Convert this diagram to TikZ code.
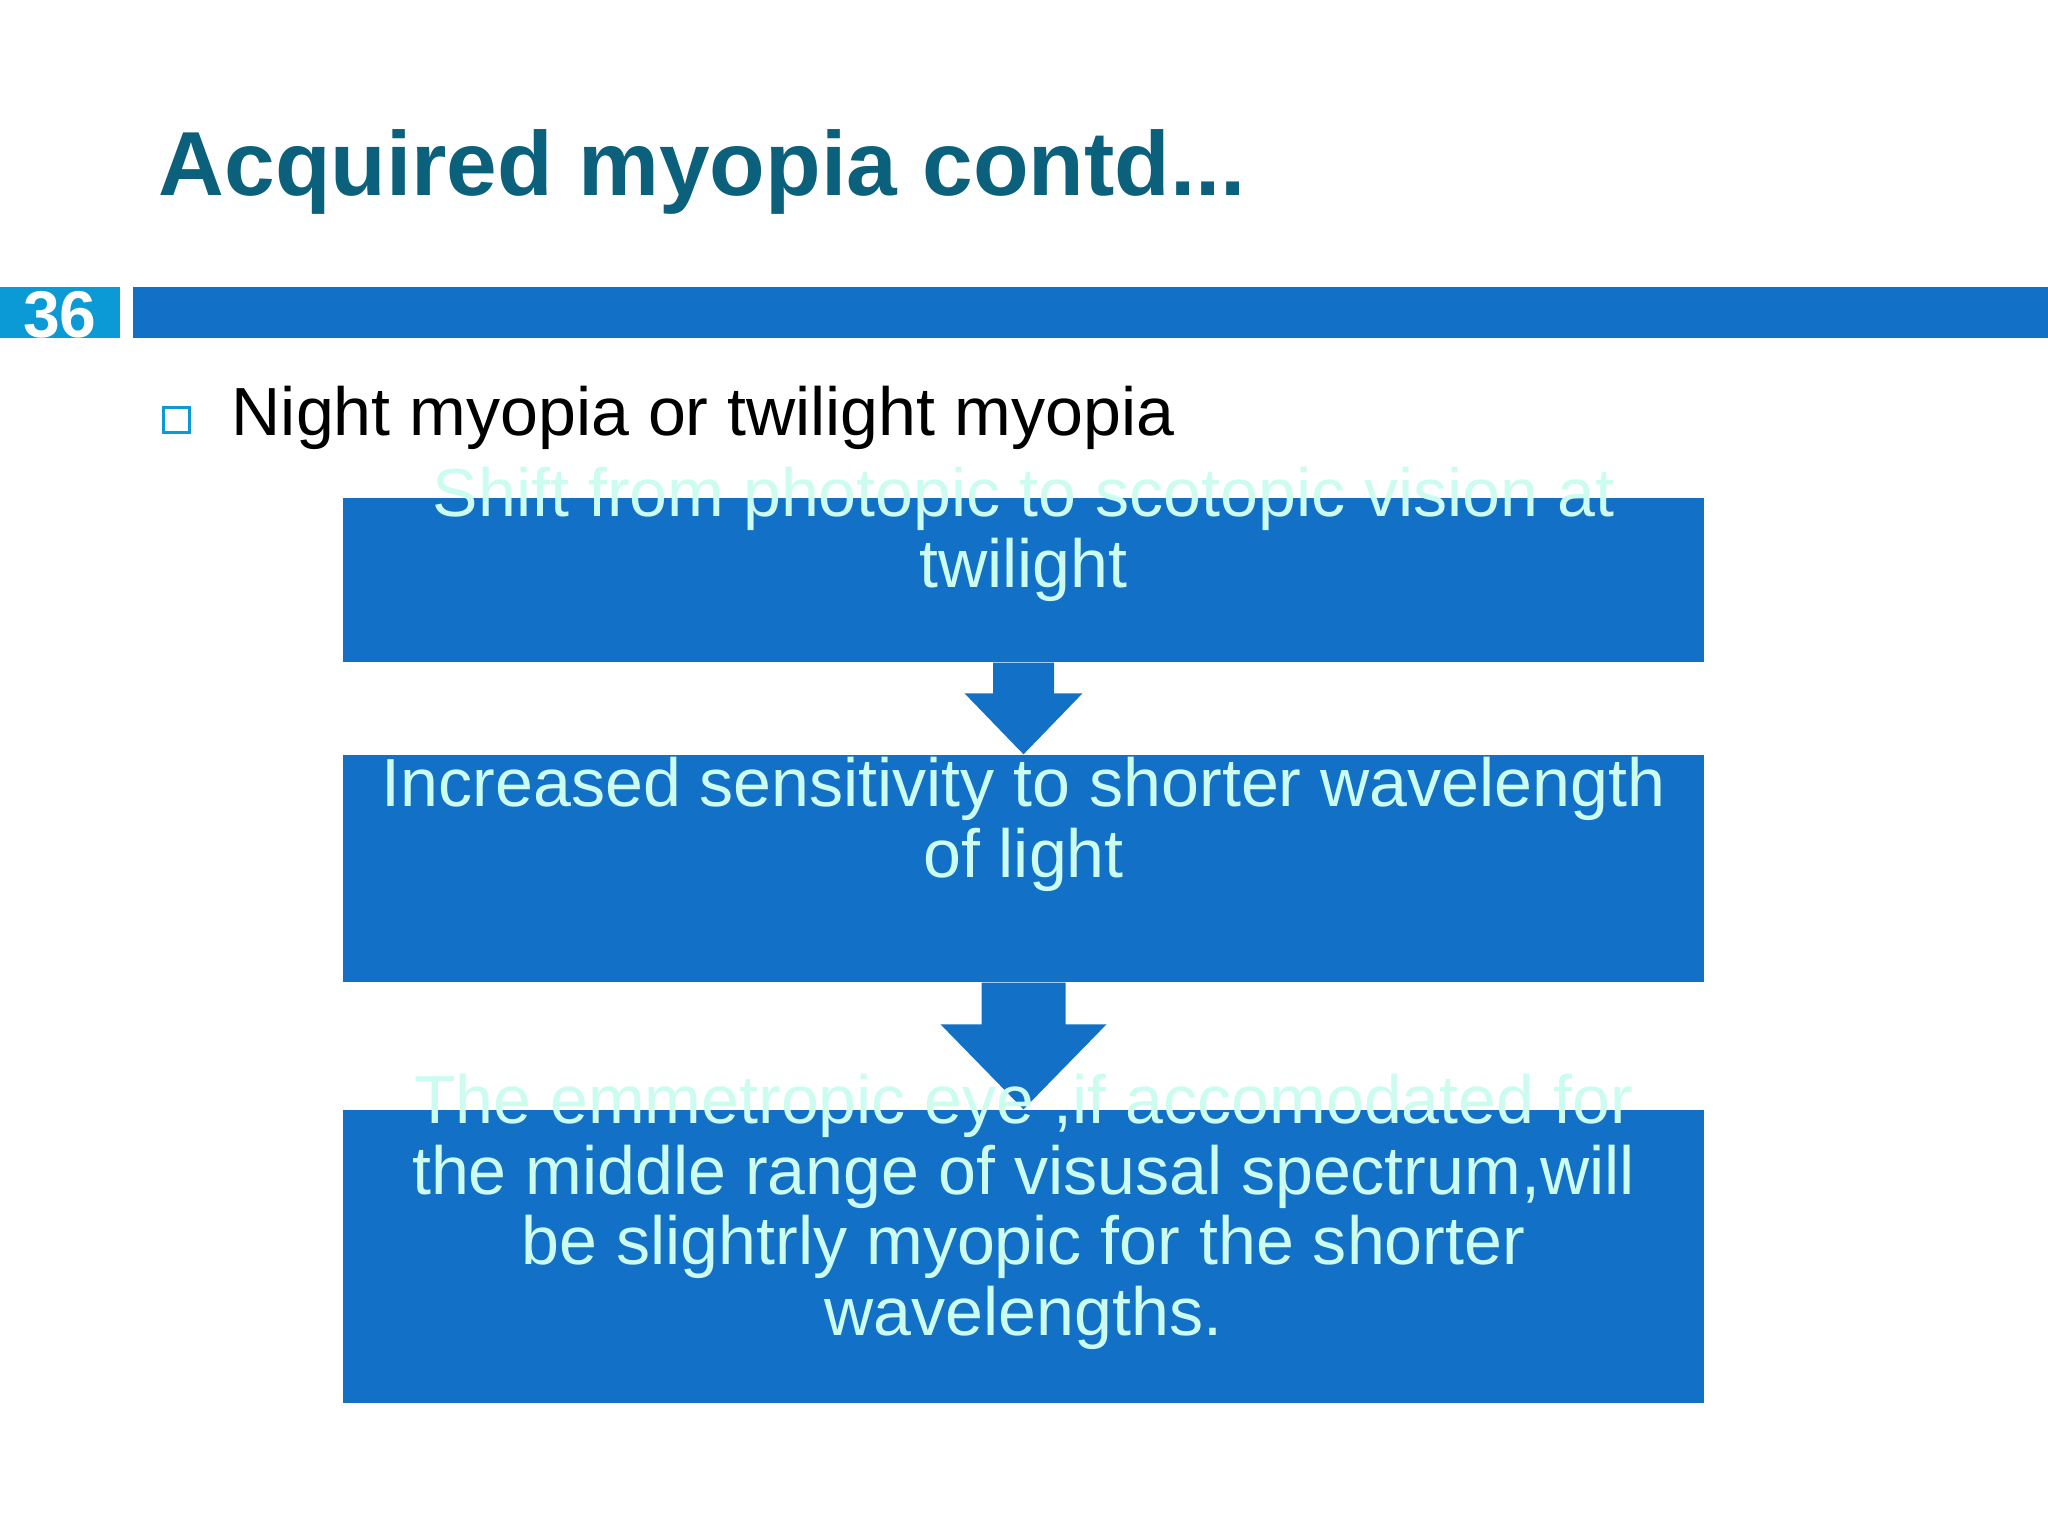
\documentclass[tikz,border=0pt]{standalone}
\usepackage{fontspec}
\setmainfont{Liberation Sans}
\usetikzlibrary{calc,positioning}
\definecolor{boxblue}{RGB}{18,112,198}
\definecolor{titleteal}{RGB}{11,96,124}
\definecolor{badgeblue}{RGB}{12,154,214}
\definecolor{mint}{RGB}{204,252,240}
\newcommand{\blockdown}[5]{%
  \fill[boxblue] ($(#1.south)+(-#3,0)$) -- ($(#1.south)+(#3,0)$)
    -- ($(#2.north)+(#3,-#5)$) -- ($(#2.north)+(#4,-#5)$)
    -- (#2.north) -- ($(#2.north)+(-#4,-#5)$)
    -- ($(#2.north)+(-#3,-#5)$) -- cycle;
}
\tikzset{
  flowbox/.style={fill=boxblue,inner sep=0pt,minimum width=136.1mm},
  flowtext/.style={text=mint,align=center,anchor=base,inner sep=0pt,
    font=\fontsize{19.38}{20.06}\selectfont},
}

\begin{document}
\begin{tikzpicture}[x=0.1mm,y=-0.1mm]
  \useasboundingbox (0,0) rectangle (2048,1536);
  \fill[white] (0,0) rectangle (2048,1536);
  \node[anchor=base west,inner sep=0pt,text=titleteal,
    font=\fontsize{25.9}{30}\selectfont\bfseries] (title) at (158,195) {Acquired myopia contd...};
  \fill[badgeblue] (0,287) rectangle (120,338);
  \fill[boxblue] (133,287) rectangle (2048,338);
  \node[anchor=base,inner sep=0pt,text=white,
    font=\fontsize{18.8}{22}\selectfont\bfseries] (num) at (60,337) {36};
  \draw[badgeblue,line width=0.3mm] (163.5,407.5) rectangle (189.5,432.5);
  \node[anchor=base west,inner sep=0pt,
    font=\fontsize{19.38}{22}\selectfont] (bullet) at (231,435) {Night myopia or twilight myopia};
  \node[flowbox,minimum height=16.4mm] (b1) at (1023.5,580) {};
  \node[flowbox,minimum height=22.7mm] (b2) at (1023.5,868.5) {};
  \node[flowbox,minimum height=29.3mm] (b3) at (1023.5,1256.5) {};
  \blockdown{b1}{b2}{30.5}{59}{61}
  \blockdown{b2}{b3}{42}{83}{85}
  \node[flowtext] (t1) at (1023.5,587) {Shift from photopic to scotopic vision at\\twilight};
  \node[flowtext] (t2) at (1023.5,877) {Increased sensitivity to shorter wavelength\\of light};
  \node[flowtext] (t3) at (1023.5,1335) {The emmetropic eye ,if accomodated for\\the middle range of visusal spectrum,will\\be slightrly myopic for the shorter\\wavelengths.};
\end{tikzpicture}
\end{document}
